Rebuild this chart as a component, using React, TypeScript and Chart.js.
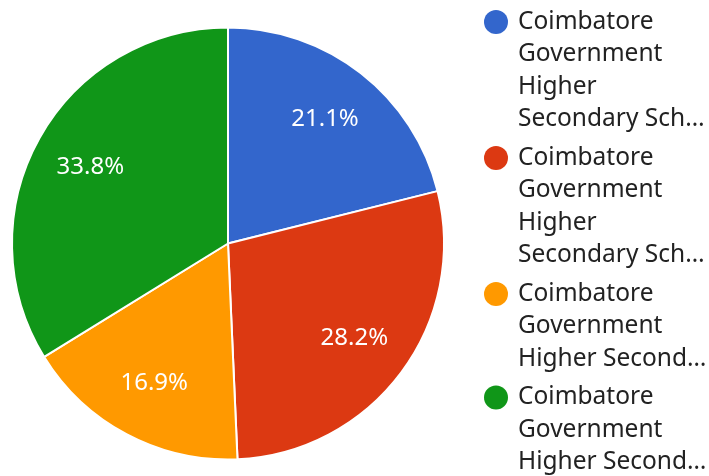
import React, { useEffect, useRef } from "react";
import { Chart, registerables } from "chart.js";

Chart.register(...registerables);

const categories = [
  "Coimbatore Government Higher Secondary School 1",
  "Coimbatore Government Higher Secondary School 2",
  "Coimbatore Government Higher Secondary School 3",
  "Coimbatore Government Higher Secondary School 4",
];
const legendLines = [
  ["Coimbatore", "Government", "Higher", "Secondary Sch…"],
  ["Coimbatore", "Government", "Higher", "Secondary Sch…"],
  ["Coimbatore", "Government", "Higher Second…"],
  ["Coimbatore", "Government", "Higher Second…"],
];
const values = [21.1, 28.2, 16.9, 33.8];
const colors = ["#3366CC", "#DC3912", "#FF9900", "#109618"];

const FONT = '"Noto Sans", "Open Sans", sans-serif';

const overlayPlugin = {
  id: "overlay",
  afterDatasetsDraw(chart: any) {
    const ctx = chart.ctx;
    const meta = chart.getDatasetMeta(0);
    const total = values.reduce((a, b) => a + b, 0);
    ctx.save();
    ctx.fillStyle = "#ffffff";
    ctx.font = `24px ${FONT}`;
    ctx.textAlign = "center";
    ctx.textBaseline = "middle";
    meta.data.forEach((arc: any, i: number) => {
      const { x, y, startAngle, endAngle, outerRadius } = arc.getProps(
        ["x", "y", "startAngle", "endAngle", "outerRadius"],
        true
      );
      const mid = (startAngle + endAngle) / 2;
      const r = outerRadius * 0.73;
      const pct = ((values[i] / total) * 100).toFixed(1) + "%";
      ctx.fillText(pct, x + Math.cos(mid) * r, y + Math.sin(mid) * r);
    });
    // legend
    const lx = 496;
    const tx = 518;
    let top = 22;
    const lh = 32.5;
    ctx.textAlign = "left";
    ctx.font = `24.5px ${FONT}`;
    legendLines.forEach((lines, i) => {
      ctx.fillStyle = colors[i];
      ctx.beginPath();
      ctx.arc(lx, top, 12, 0, Math.PI * 2);
      ctx.fill();
      ctx.fillStyle = "#222222";
      lines.forEach((ln, j) => {
        ctx.fillText(ln, tx, top + j * lh);
      });
      top += lines.length * lh + 6;
    });
    ctx.restore();
  },
};

export default function App() {
  const ref = useRef<HTMLCanvasElement | null>(null);
  useEffect(() => {
    if (!ref.current) return;
    const chart = new Chart(ref.current, {
      type: "pie",
      data: {
        labels: categories,
        datasets: [
          {
            data: values,
            backgroundColor: colors,
            borderColor: "#ffffff",
            borderWidth: 2,
          },
        ],
      },
      options: {
        animation: false,
        responsive: false,
        layout: { padding: { left: 11, top: 26, right: 264, bottom: 15 } },
        plugins: {
          legend: { display: false },
          tooltip: { enabled: false },
        },
      },
      plugins: [overlayPlugin],
    });
    return () => chart.destroy();
  }, []);
  return (
    <div style={{ position: "fixed", left: 0, top: 0, width: 709, height: 476, background: "#fff" }}>
      <canvas ref={ref} width={709} height={476} style={{ display: "block" }} />
    </div>
  );
}
